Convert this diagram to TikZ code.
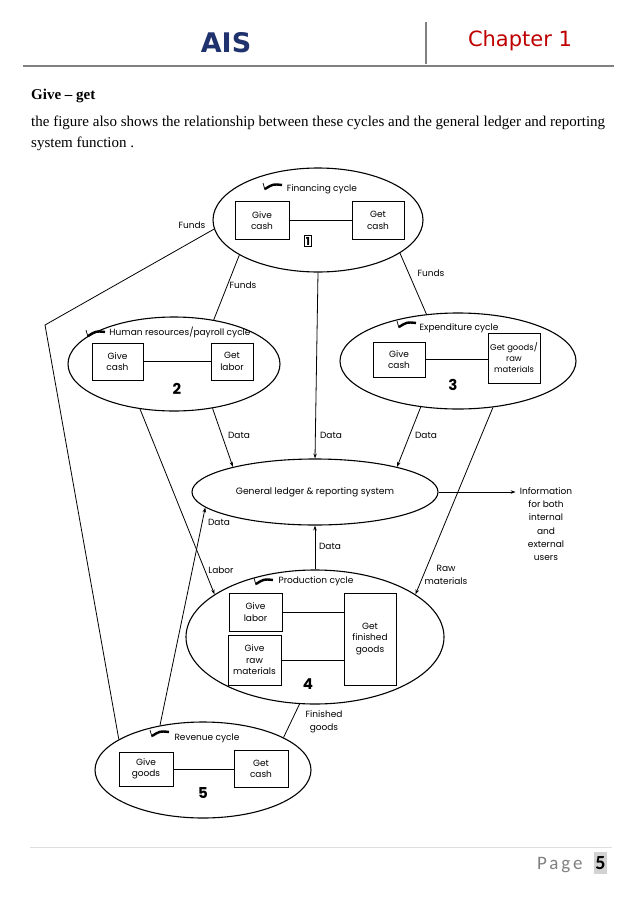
\documentclass[tikz,border=0pt]{standalone}
\usepackage{fontspec}
\setmainfont{Liberation Serif}
\newfontfamily\dfont{Poppins}
\newfontfamily\hfont{DejaVu Sans}
\newfontfamily\pfont{Carlito}
\usetikzlibrary{shapes.geometric,arrows.meta}
\definecolor{aisblue}{RGB}{31,50,110}
\definecolor{chapred}{RGB}{192,0,0}
\newcommand\scrib[2]{%
  \draw[line width=0.7pt] ({#1-10},{#2-4}) -- ({#1-8},{#2+3});
  \draw[line width=2.4pt] ({#1-8},{#2+2}) .. controls ({#1},{#2-3}) .. ({#1+9},{#2-2});
}
\begin{document}
\begin{tikzpicture}[x=1pt,y=-1pt,
  cyc/.style={ellipse, draw, line width=1.1pt, inner sep=0pt, font=\dfont\fontsize{9.2}{10}\selectfont},
  bx/.style={draw, line width=0.9pt, inner sep=1pt, align=center, font=\dfont\fontsize{9}{11.5}\selectfont},
  lbl/.style={inner sep=0pt, align=center, font=\dfont\fontsize{9}{10}\selectfont},
  con/.style={line width=0.8pt},
  arr/.style={con, -{Stealth[length=5pt,width=3.5pt]}},
  num/.style={inner sep=0pt, font=\dfont\bfseries\fontsize{15}{15}\selectfont},
  body/.style={anchor=base west, inner sep=0pt, font=\fontsize{15}{18}\selectfont}
]
\fill[white] (0,0) rectangle (638,902);
\useasboundingbox (0,0) rectangle (638,902);

% header
\node[font=\hfont\bfseries\fontsize{27}{27}\selectfont, text=aisblue] (ais) at (226,43) {AIS};
\node[font=\hfont\fontsize{21}{21}\selectfont, text=chapred] (chap) at (520,41) {Chapter 1};
\draw[gray, line width=1.5pt] (426,22) -- (426,64);
\draw[gray, line width=2pt] (23,66) -- (614,66);

% body text
\node[body, font=\bfseries\fontsize{15}{18}\selectfont] (t1) at (31,99) {Give -- get};
\node[body] (t2) at (31,126) {the figure also shows the relationship between these cycles and the general ledger and reporting};
\node[body] (t3) at (31,147) {system function .};

% cycles
\node[cyc, minimum width=210pt, minimum height=104pt] (fin) at (318,220) {};
\node[cyc, minimum width=212pt, minimum height=94pt] (hr) at (174,364) {};
\node[cyc, minimum width=236pt, minimum height=96pt] (exp) at (458,361) {};
\node[cyc, minimum width=246pt, minimum height=66pt] (gl) at (315,492) {General ledger \& reporting system};
\node[cyc, minimum width=258pt, minimum height=134pt] (prod) at (315,637) {};
\node[cyc, minimum width=216pt, minimum height=96pt] (rev) at (203,770) {};

% boxes
\node[bx, minimum width=54pt, minimum height=38pt] (fgive) at (262,220.5) {Give\\cash};
\node[bx, minimum width=52pt, minimum height=38pt] (fget) at (378,220.5) {Get\\cash};
\draw[con] (fgive.east) -- (fget.west);
\node[bx, minimum width=51pt, minimum height=37pt] (hgive) at (117.5,361.5) {Give\\cash};
\node[bx, minimum width=42pt, minimum height=37pt] (hget) at (232,361.5) {Get\\labor};
\draw[con] (hgive.east) -- (hget.west);
\node[bx, minimum width=52pt, minimum height=35pt] (egive) at (399,359.5) {Give\\cash};
\node[bx, minimum width=52pt, minimum height=50pt, inner sep=0.5pt, font=\dfont\fontsize{8.4}{11}\selectfont] (eget) at (514,358) {Get goods/\\raw\\materials};
\draw[con] (egive.east) -- (egive.east -| eget.west);
\node[bx, minimum width=53pt, minimum height=38pt] (plab) at (255.5,612) {Give\\labor};
\node[bx, minimum width=53pt, minimum height=50pt] (praw) at (254.5,660) {Give\\raw\\materials};
\node[bx, minimum width=52pt, minimum height=92pt] (pfin) at (370,639) {Get\\finished\\goods};
\draw[con] (plab.east) -- (plab.east -| pfin.west);
\draw[con] (praw.east) -- (praw.east -| pfin.west);
\node[bx, minimum width=54pt, minimum height=34pt] (rgive) at (146,769) {Give\\goods};
\node[bx, minimum width=54pt, minimum height=37pt] (rget) at (261,769) {Get\\cash};
\draw[con] (rgive.east) -- (rget.west);

% cycle labels
\node[lbl] (finl) at (322,189) {Financing cycle};
\node[lbl] (hrl) at (180,332) {Human resources/payroll cycle};
\node[lbl] (expl) at (459,328) {Expenditure cycle};
\node[lbl] (prodl) at (316,581) {Production cycle};
\node[lbl] (revl) at (207,738) {Revenue cycle};
\scrib{273}{187}
\scrib{96}{334}
\scrib{407}{325}
\scrib{264}{582}
\scrib{160}{734}

% numbers
\node[num, draw, line width=1pt, inner sep=1.2pt, font=\dfont\bfseries\fontsize{11}{11}\selectfont] (n1) at (308,241) {1};
\node[num] (n2) at (177,389) {2};
\node[num] (n3) at (453,385) {3};
\node[num] (n4) at (308,684) {4};
\node[num] (n5) at (203,793) {5};

% connectors
\coordinate (bend) at (45,325);
\draw[con] (fin.185) -- (bend) -- (rev.160.8);
\draw[con] (fin.204) -- (hr.48.4);
\draw[con] (fin.338) -- (exp.124.8);
\draw[arr] (fin.south) -- (gl.north);
\draw[arr] (hr.311) -- (gl.163);
\draw[arr] (exp.231) -- (gl.17);
\draw[arr] (prod.north) -- (gl.south);
\draw[arr] (rev.134) -- (gl.188.4);
\draw[arr] (hr.233.5) -- (prod.157.8);
\draw[arr] (exp.307) -- (prod.23.3);
\draw[con] (prod.257) -- (rev.22.6);

\node[lbl, inner xsep=4pt, font=\dfont\fontsize{9}{13.2}\selectfont] (info) at (546,524) {Information\\for both\\internal\\and\\external\\users};
\draw[arr] (gl.east) -- (gl.east -| info.west);

% connector labels
\node[lbl] (lf1) at (192,225) {Funds};
\node[lbl] (lf2) at (243,285) {Funds};
\node[lbl] (lf3) at (431,273) {Funds};
\node[lbl] (ld1) at (239,435) {Data};
\node[lbl] (ld2) at (331,435) {Data};
\node[lbl] (ld3) at (426,435) {Data};
\node[lbl] (ld4) at (219,522) {Data};
\node[lbl] (ld5) at (330,546) {Data};
\node[lbl] (llab) at (221,570) {Labor};
\node[lbl, font=\dfont\fontsize{9}{13}\selectfont] (lraw) at (446,575) {Raw\\materials};
\node[lbl, font=\dfont\fontsize{9}{13}\selectfont] (lfg) at (324,722) {Finished\\goods};

% footer
\draw[gray!25, line width=0.6pt] (30,847) -- (612,847);
\fill[gray!35] (594,852) rectangle (607,874);
\node[font=\pfont\bfseries\fontsize{20}{20}\selectfont, anchor=base, inner sep=0pt] (pnum) at (600.5,869) {5};
\node[font=\pfont\addfontfeatures{LetterSpace=15}\fontsize{19}{19}\selectfont, text=gray, anchor=base west, inner sep=0pt] (page) at (537,869) {Page};
\end{tikzpicture}
\end{document}
